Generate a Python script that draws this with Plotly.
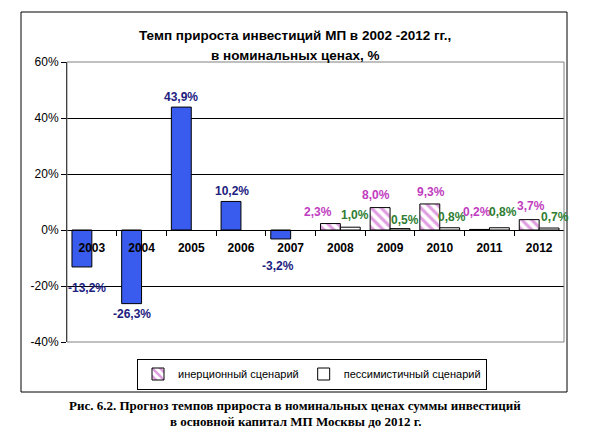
import plotly.graph_objects as go

years = ["2003", "2004", "2005", "2006", "2007", "2008", "2009", "2010", "2011", "2012"]
actual = [-13.2, -26.3, 43.9, 10.2, -3.2, None, None, None, None, None]
inertial = [None, None, None, None, None, 2.3, 8.0, 9.3, 0.2, 3.7]
pessimistic = [None, None, None, None, None, 1.0, 0.5, 0.8, 0.8, 0.7]
y_ticks = [-40, -20, 0, 20, 40, 60]

# label nudges (px): (dx, dy) relative to bar end
actual_shift = [(-5, -21), (-10, -10), (-10, 10), (-9, 10), (-13, -27)]
inertial_shift = [(-22, 12), (-14, 13), (-9, 12), (-12, 17), (-8, 14)]
pess_shift = [(15, 12), (15, 9), (12, 11), (14, 16), (16, 11)]

# page body has an 8px margin: figure sits at (8, 8)
OFF = 8
W, H = 590 - OFF, 435 - OFF

def fx(px):
    return (px - OFF) / W

def fy(py):
    return 1 - (py - OFF) / H

px_l, px_r, px_t, px_b = 67, 564, 62, 342
dom_x = [fx(px_l), fx(px_r)]
dom_y = [fy(px_b), fy(px_t)]
ymin, ymax = -40, 60
zero_pos = dom_y[0] + (0 - ymin) / (ymax - ymin) * (dom_y[1] - dom_y[0])

NARROW = "Liberation Sans Narrow, Arial Narrow, Liberation Sans, Arial"
SANS = "Liberation Sans, Arial"
SERIF = "Liberation Serif, Times New Roman, serif"

idx = list(range(len(years)))

fig = go.Figure()
fig.add_trace(go.Bar(
    x=idx, y=actual, width=0.4, offset=-0.4, showlegend=False,
    marker=dict(color="#3A5CEE", line=dict(color="black", width=1)),
    hoverinfo="skip"))
fig.add_trace(go.Bar(
    x=idx, y=inertial, width=0.4, offset=-0.4, name="инерционный сценарий",
    marker=dict(color="white", line=dict(color="black", width=1),
                pattern=dict(shape="\\", fgcolor="#C03CC0", bgcolor="white",
                             size=7, solidity=0.45, fillmode="overlay")),
    hoverinfo="skip"))
fig.add_trace(go.Bar(
    x=idx, y=pessimistic, width=0.4, offset=0.0, name="пессимистичный сценарий",
    marker=dict(color="white", line=dict(color="black", width=1)),
    hoverinfo="skip"))

def fmt(v):
    return ("%.1f%%" % v).replace(".", ",")

annotations = []
def add_labels(vals, shifts, color):
    it = iter(shifts)
    for i, v in zip(idx, vals):
        if v is None:
            continue
        dx, dy = next(it)
        annotations.append(dict(
            x=i, y=v, xref="x", yref="y", text="<b>" + fmt(v) + "</b>", showarrow=False,
            xanchor="center", yanchor="middle", xshift=dx, yshift=dy,
            font=dict(family=NARROW, size=12, color=color)))

add_labels(actual, actual_shift, "#1C2180")
add_labels(inertial, inertial_shift, "#C03CC0")
add_labels(pessimistic, pess_shift, "#2E7D32")

def text_at(xp, yp, txt, font):
    annotations.append(dict(
        x=fx(xp), y=fy(yp), xref="paper", yref="paper", showarrow=False,
        xanchor="center", yanchor="middle", text=txt, font=font))

tfont = dict(family=SANS, size=13.5, color="black")
text_at(295, 36, "<b>Темп прироста инвестиций МП в 2002 -2012 гг.,</b>", tfont)
text_at(295, 55, "<b>в номинальных ценах, %</b>", tfont)
cfont = dict(family=SERIF, size=13, color="black")
text_at(295, 405, "<b>Рис. 6.2. Прогноз темпов прироста в номинальных ценах суммы инвестиций</b>", cfont)
text_at(295, 421, "<b>в основной капитал МП Москвы до 2012 г.</b>", cfont)

shapes = [
    dict(type="rect", xref="paper", yref="paper",
         x0=fx(21), x1=fx(567), y0=fy(392), y1=fy(12),
         line=dict(color="black", width=1), layer="below"),
    dict(type="rect", xref="x domain", yref="y domain", x0=0, x1=1, y0=0, y1=1,
         line=dict(color="#808080", width=1), layer="above"),
]

fig.update_layout(
    width=W, height=H,
    margin=dict(l=0, r=0, t=0, b=0, autoexpand=False),
    paper_bgcolor="white", plot_bgcolor="white",
    barmode="overlay",
    showlegend=True,
    legend=dict(orientation="h", x=fx(312), y=fy(374), xanchor="center",
                yanchor="middle", bordercolor="black", borderwidth=1,
                font=dict(family=SANS, size=11, color="black"),
                itemwidth=30, bgcolor="white", traceorder="normal"),
    xaxis=dict(domain=dom_x, range=[-0.5, len(years) - 0.5],
               tickmode="array", tickvals=idx, ticktext=["<b>%s</b>" % y for y in years],
               anchor="free", position=zero_pos,
               showline=True, linecolor="black", linewidth=1,
               ticks="", showgrid=False, zeroline=False,
               minor=dict(tickmode="array", tickvals=[i + 0.5 for i in idx[:-1]],
                          ticks="outside", ticklen=5, tickcolor="black", showgrid=False),
               tickfont=dict(family=NARROW, size=12, color="black"),
               ticklabelstandoff=7, fixedrange=True),
    yaxis=dict(domain=dom_y, range=[ymin, ymax], tickvals=y_ticks,
               ticktext=["%d%%" % t for t in y_ticks],
               showline=True, linecolor="black", linewidth=1,
               ticks="outside", ticklen=5, tickcolor="black",
               showgrid=True, gridcolor="black", gridwidth=1, zeroline=False,
               tickfont=dict(family=NARROW, size=12, color="black"),
               fixedrange=True),
    annotations=annotations,
    shapes=shapes,
)

fig.write_html("out.html")
